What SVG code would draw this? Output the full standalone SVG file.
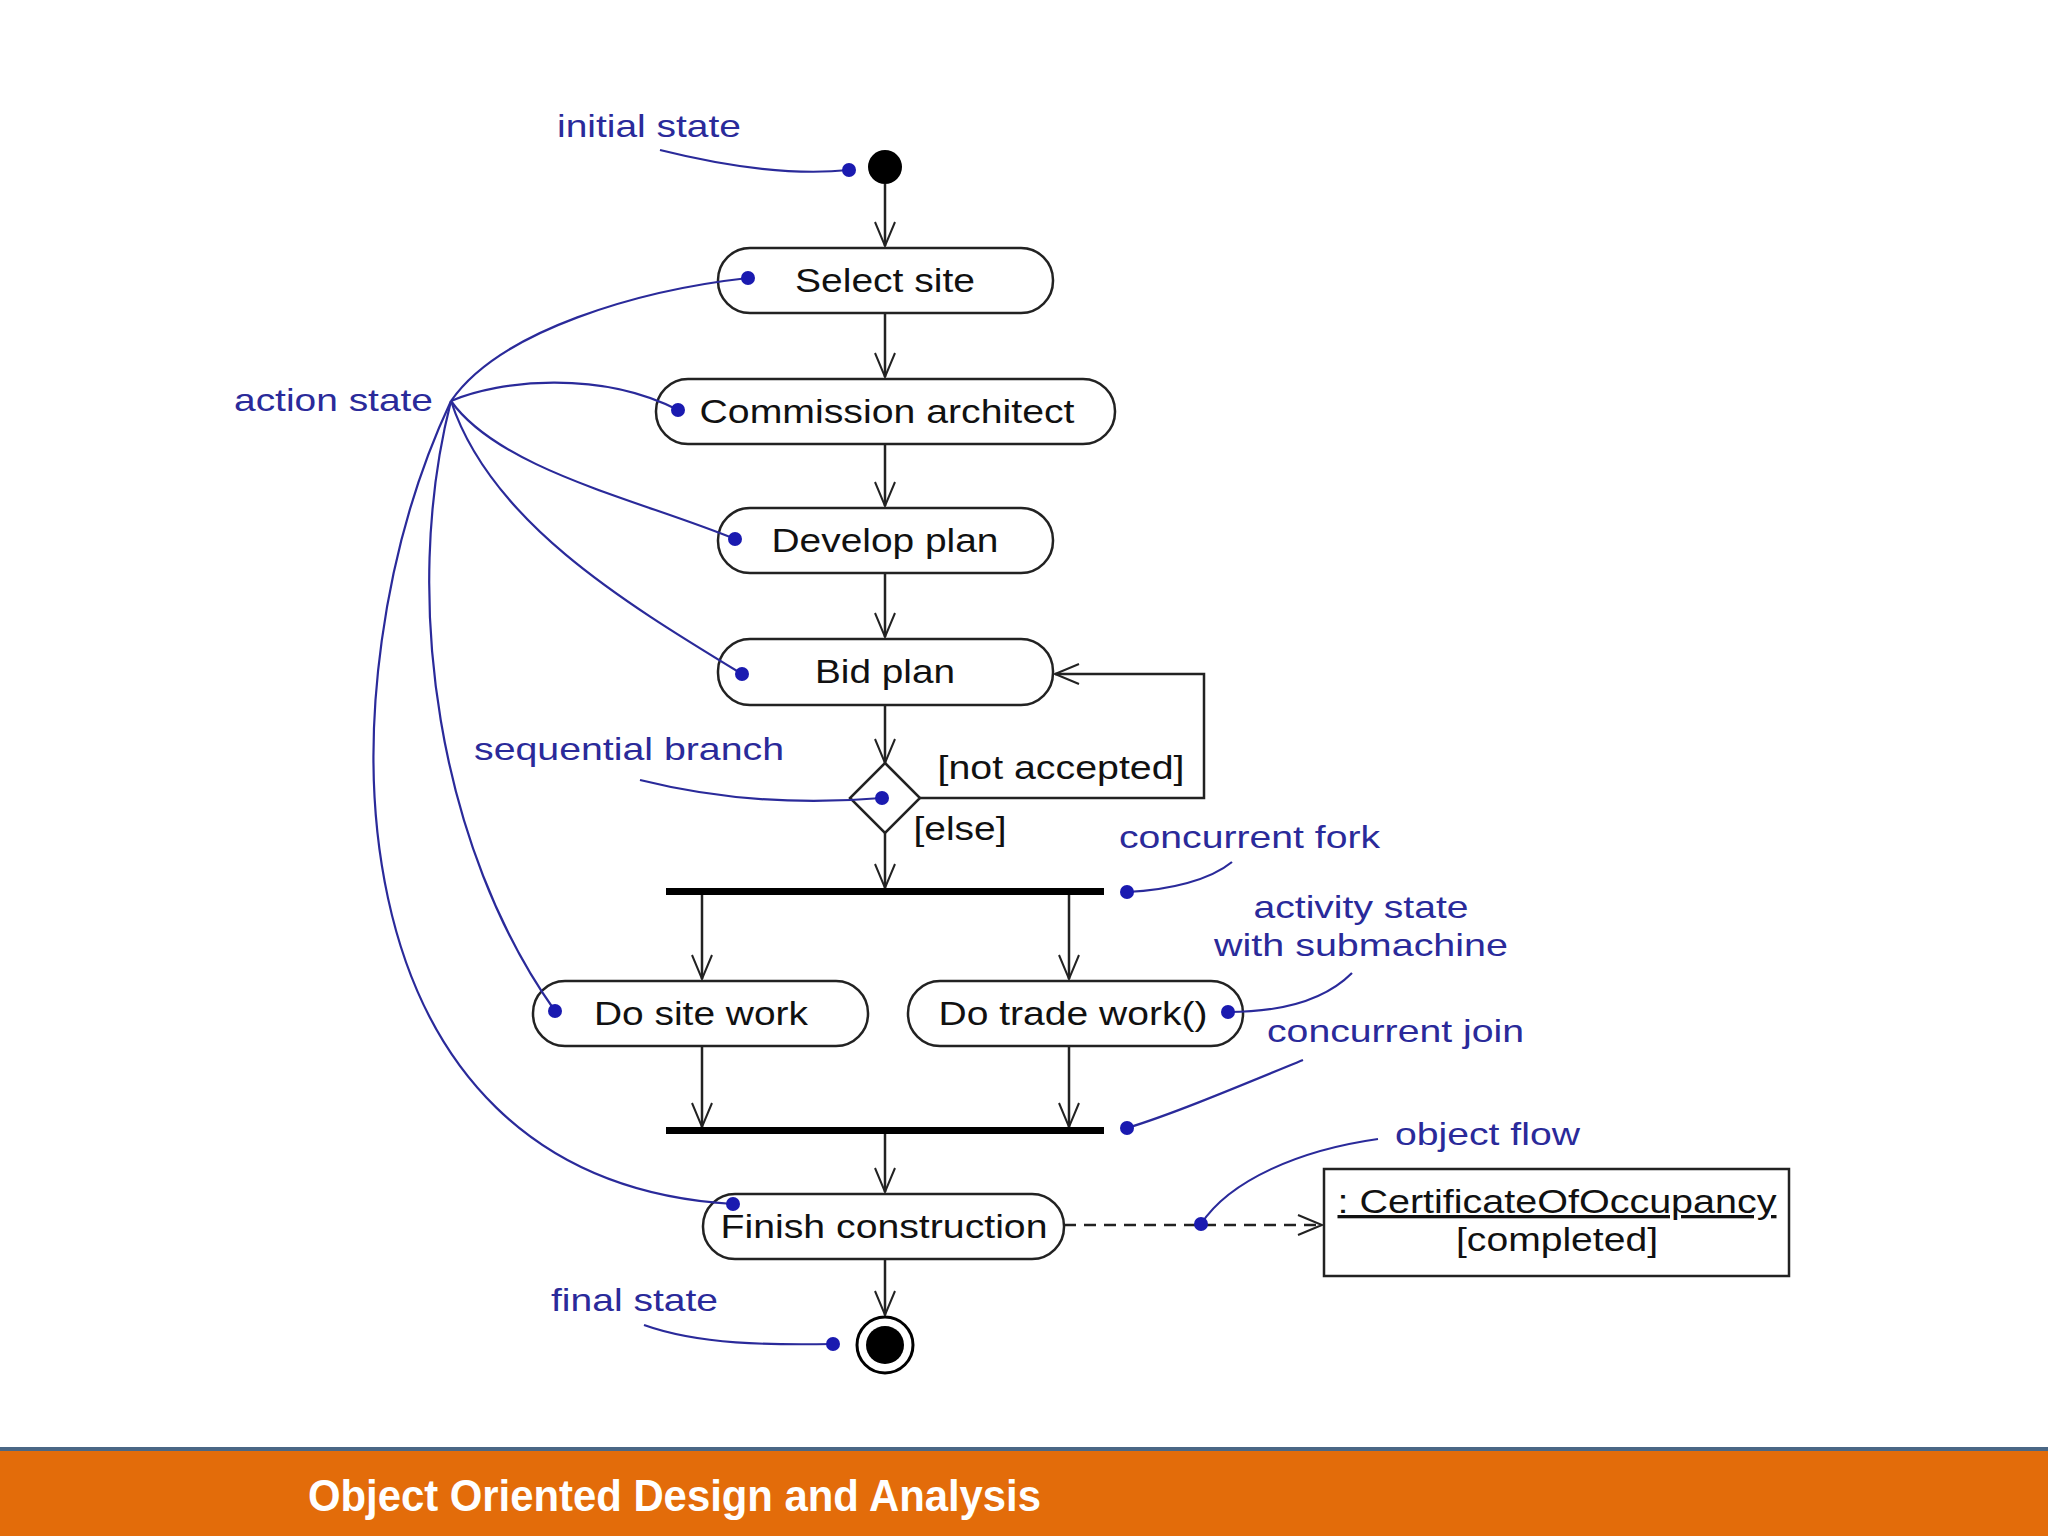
<svg xmlns="http://www.w3.org/2000/svg" width="2048" height="1536" viewBox="0 0 2048 1536">
<defs>
<marker id="oa" markerWidth="30" markerHeight="30" refX="26" refY="12" orient="auto" markerUnits="userSpaceOnUse"><path d="M2,2 L26,12 L2,22" fill="none" stroke="#222" stroke-width="2"/></marker>
<style>
.n{fill:#fff;stroke:#222;stroke-width:2.5}
.t{font-family:"Liberation Sans",Arial,sans-serif;font-size:33px;fill:#111;text-anchor:middle}
.a{font-family:"Liberation Sans",Arial,sans-serif;font-size:32px;fill:#2a2a9a}
.e{fill:none;stroke:#222;stroke-width:2.5}
.c{fill:none;stroke:#2a2a9a;stroke-width:2.2}
.d{fill:#1a1ab0}
</style>
</defs>
<rect width="2048" height="1536" fill="#fff"/>
<g id="connectors">
<line class="e" x1="885" y1="184" x2="885" y2="246" marker-end="url(#oa)"/>
<line class="e" x1="885" y1="313" x2="885" y2="377" marker-end="url(#oa)"/>
<line class="e" x1="885" y1="444" x2="885" y2="506" marker-end="url(#oa)"/>
<line class="e" x1="885" y1="573" x2="885" y2="637" marker-end="url(#oa)"/>
<line class="e" x1="885" y1="705" x2="885" y2="763" marker-end="url(#oa)"/>
<polyline class="e" points="920,798 1204,798 1204,674 1055,674" marker-end="url(#oa)"/>
<line class="e" x1="885" y1="833" x2="885" y2="888" marker-end="url(#oa)"/>
<line class="e" x1="702" y1="894" x2="702" y2="979" marker-end="url(#oa)"/>
<line class="e" x1="1069" y1="894" x2="1069" y2="979" marker-end="url(#oa)"/>
<line class="e" x1="702" y1="1046" x2="702" y2="1127" marker-end="url(#oa)"/>
<line class="e" x1="1069" y1="1046" x2="1069" y2="1127" marker-end="url(#oa)"/>
<line class="e" x1="885" y1="1133" x2="885" y2="1192" marker-end="url(#oa)"/>
<line class="e" x1="885" y1="1259" x2="885" y2="1315" marker-end="url(#oa)"/>
<line class="e" x1="1064" y1="1225" x2="1322" y2="1225" stroke-dasharray="12,8" marker-end="url(#oa)"/>
</g>
<g id="initial"><circle cx="885" cy="167" r="17" fill="#000"/></g>
<g id="select"><rect class="n" x="718" y="248" width="335" height="65" rx="32"/><text class="t" x="885" y="292" textLength="180" lengthAdjust="spacingAndGlyphs">Select site</text></g>
<g id="commission"><rect class="n" x="656" y="379" width="459" height="65" rx="32"/><text class="t" x="887" y="423" textLength="375" lengthAdjust="spacingAndGlyphs">Commission architect</text></g>
<g id="develop"><rect class="n" x="718" y="508" width="335" height="65" rx="32"/><text class="t" x="885" y="552" textLength="227" lengthAdjust="spacingAndGlyphs">Develop plan</text></g>
<g id="bid"><rect class="n" x="718" y="639" width="335" height="66" rx="32"/><text class="t" x="885" y="683" textLength="140" lengthAdjust="spacingAndGlyphs">Bid plan</text></g>
<g id="branch"><polygon class="n" points="885,763 920,798 885,833 850,798"/>
<text class="t" x="1061" y="779" textLength="247" lengthAdjust="spacingAndGlyphs">[not accepted]</text>
<text class="t" x="960" y="840" textLength="93" lengthAdjust="spacingAndGlyphs">[else]</text></g>
<g id="fork"><rect x="666" y="888" width="438" height="7" fill="#000"/></g>
<g id="sitework"><rect class="n" x="533" y="981" width="335" height="65" rx="32"/><text class="t" x="701" y="1025" textLength="214" lengthAdjust="spacingAndGlyphs">Do site work</text></g>
<g id="tradework"><rect class="n" x="908" y="981" width="335" height="65" rx="32"/><text class="t" x="1073" y="1025" textLength="269" lengthAdjust="spacingAndGlyphs">Do trade work()</text></g>
<g id="join"><rect x="666" y="1127" width="438" height="7" fill="#000"/></g>
<g id="finish"><rect class="n" x="703" y="1194" width="361" height="65" rx="32"/><text class="t" x="884" y="1238" textLength="327" lengthAdjust="spacingAndGlyphs">Finish construction</text></g>
<g id="final"><circle cx="885" cy="1345" r="28" fill="#fff" stroke="#000" stroke-width="3"/><circle cx="885" cy="1345" r="19" fill="#000"/></g>
<g id="object"><rect x="1324" y="1169" width="465" height="107" fill="#fff" stroke="#222" stroke-width="2.5"/>
<text class="t" x="1557" y="1213" text-decoration="underline" textLength="439" lengthAdjust="spacingAndGlyphs">: CertificateOfOccupancy</text>
<text class="t" x="1557" y="1251" textLength="202" lengthAdjust="spacingAndGlyphs">[completed]</text></g>
<g id="annotations">
<text class="a" x="557" y="137" textLength="184" lengthAdjust="spacingAndGlyphs">initial state</text>
<path class="c" d="M660,150 C740,170 800,175 849,170"/><circle class="d" cx="849" cy="170" r="7"/>
<text class="a" x="234" y="411" textLength="199" lengthAdjust="spacingAndGlyphs">action state</text>
<path class="c" d="M451,401 C500,330 640,290 748,278"/><circle class="d" cx="748" cy="278" r="7"/>
<path class="c" d="M451,401 C500,380 600,370 678,410"/><circle class="d" cx="678" cy="410" r="7"/>
<path class="c" d="M451,401 C500,470 640,500 735,539"/><circle class="d" cx="735" cy="539" r="7"/>
<path class="c" d="M451,401 C490,520 620,600 742,674"/><circle class="d" cx="742" cy="674" r="7"/>
<path class="c" d="M451,401 C400,600 440,850 555,1011"/><circle class="d" cx="555" cy="1011" r="7"/>
<path class="c" d="M451,401 C320,680 320,1180 733,1204"/><circle class="d" cx="733" cy="1204" r="7"/>
<text class="a" x="474" y="760" textLength="310" lengthAdjust="spacingAndGlyphs">sequential branch</text>
<path class="c" d="M640,780 C720,800 800,805 882,798"/><circle class="d" cx="882" cy="798" r="7"/>
<text class="a" x="1119" y="848" textLength="261" lengthAdjust="spacingAndGlyphs">concurrent fork</text>
<path class="c" d="M1232,862 C1210,880 1170,890 1127,892"/><circle class="d" cx="1127" cy="892" r="7"/>
<text class="a" x="1361" y="918" text-anchor="middle" textLength="215" lengthAdjust="spacingAndGlyphs">activity state</text>
<text class="a" x="1361" y="956" text-anchor="middle" textLength="294" lengthAdjust="spacingAndGlyphs">with submachine</text>
<path class="c" d="M1352,973 C1320,1005 1270,1012 1228,1012"/><circle class="d" cx="1228" cy="1012" r="7"/>
<text class="a" x="1267" y="1042" textLength="257" lengthAdjust="spacingAndGlyphs">concurrent join</text>
<path class="c" d="M1303,1060 C1230,1090 1170,1115 1127,1128"/><circle class="d" cx="1127" cy="1128" r="7"/>
<text class="a" x="1395" y="1145" textLength="185" lengthAdjust="spacingAndGlyphs">object flow</text>
<path class="c" d="M1378,1139 C1300,1150 1230,1180 1201,1224"/><circle class="d" cx="1201" cy="1224" r="7"/>
<text class="a" x="551" y="1311" textLength="167" lengthAdjust="spacingAndGlyphs">final state</text>
<path class="c" d="M644,1325 C700,1345 770,1345 833,1344"/><circle class="d" cx="833" cy="1344" r="7"/>
</g>
<g id="footer"><rect x="0" y="1447" width="2048" height="89" fill="#E36C0A"/><rect x="0" y="1447" width="2048" height="4" fill="#4A6785"/>
<text x="308" y="1511" font-family="Liberation Sans,Arial,sans-serif" font-size="44" font-weight="bold" fill="#fff" textLength="733" lengthAdjust="spacingAndGlyphs">Object Oriented Design and Analysis</text></g>
</svg>
